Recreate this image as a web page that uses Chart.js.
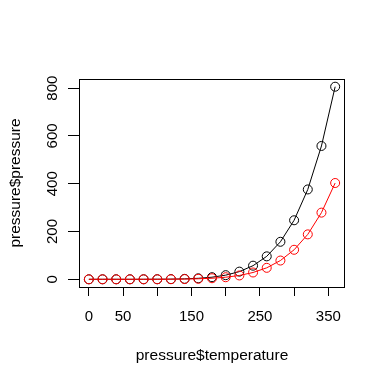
<!DOCTYPE html>
<html>
<head>
<meta charset="utf-8">
<script src="https://cdn.jsdelivr.net/npm/chart.js@4/dist/chart.umd.min.js"></script>
<style>
html,body{margin:0;padding:0;background:#fff;}
#wrap{width:384px;height:384px;}
</style>
</head>
<body>
<div id="wrap"><canvas id="c" width="384" height="384"></canvas></div>
<script>
const temperature = [0,20,40,60,80,100,120,140,160,180,200,220,240,260,280,300,320,340,360];
const pressure = [0.0002,0.0012,0.006,0.03,0.09,0.27,0.75,1.85,4.2,8.8,17.3,32.1,57,96,157,247,376,558,806];
const pressureHalf = [0.0001,0.0006,0.003,0.015,0.045,0.135,0.375,0.925,2.1,4.4,8.65,16.05,28.5,48,78.5,123.5,188,279,403];
const xTicks = [0,50,100,150,200,250,300,350];
const xTickLabels = ['0','50','','150','','250','','350'];
const yTicks = [0,200,400,600,800];
const xTitle = 'pressure$temperature';
const yTitle = 'pressure$pressure';

const FONT = 'Liberation Sans, Arial, sans-serif';

const framePlugin = {
  id: 'frame',
  afterDraw(chart) {
    const {ctx, chartArea: a} = chart;
    ctx.save();
    ctx.strokeStyle = '#000';
    ctx.lineWidth = 1;
    ctx.strokeRect(a.left + 0.5, a.top + 0.5, a.right - a.left - 1, a.bottom - a.top);
    ctx.fillStyle = '#000';
    ctx.font = '15.5px ' + FONT;
    ctx.textAlign = 'center';
    ctx.textBaseline = 'middle';
    ctx.fillText(xTitle, (a.left + a.right) / 2, 356);
    ctx.translate(16, (a.top + a.bottom) / 2);
    ctx.rotate(-Math.PI / 2);
    ctx.fillText(yTitle, 0, 0);
    ctx.restore();
  }
};

const pts = (ys) => temperature.map((t, i) => ({x: t, y: ys[i]}));

new Chart(document.getElementById('c'), {
  type: 'line',
  data: {
    datasets: [
      {data: pts(pressureHalf), borderColor: '#ff0000', pointBorderColor: '#ff0000'},
      {data: pts(pressure), borderColor: '#000000', pointBorderColor: '#000000'}
    ].map(d => Object.assign({
      borderWidth: 1, tension: 0, fill: false,
      pointRadius: 4.5, pointHoverRadius: 4.5, pointBorderWidth: 1,
      pointBackgroundColor: 'rgba(0,0,0,0)', backgroundColor: 'rgba(0,0,0,0)'
    }, d))
  },
  options: {
    responsive: false,
    animation: false,
    devicePixelRatio: 1,
    layout: {padding: {top: 79, right: 39, left: 0, bottom: 0}},
    plugins: {legend: {display: false}, tooltip: {enabled: false}},
    scales: {
      x: {
        type: 'linear', min: -14.4, max: 374.4,
        afterBuildTicks: s => { s.ticks = xTicks.map(v => ({value: v})); },
        afterFit: s => { s.height = 97; },
        grid: {drawOnChartArea: false, drawTicks: true, tickLength: 9, color: '#000', lineWidth: 1},
        border: {display: false},
        ticks: {
          autoSkip: false, maxRotation: 0, minRotation: 0, padding: 12,
          color: '#000', font: {family: FONT, size: 15},
          callback: (v) => { const i = xTicks.indexOf(v); return i >= 0 ? xTickLabels[i] : ''; }
        }
      },
      y: {
        type: 'linear', min: -32.24, max: 838.24,
        afterBuildTicks: s => { s.ticks = yTicks.map(v => ({value: v})); },
        afterFit: s => { s.width = 79; },
        grid: {drawOnChartArea: false, drawTicks: true, tickLength: 11, color: '#000', lineWidth: 1},
        border: {display: false},
        ticks: {
          autoSkip: false, minRotation: 90, maxRotation: 90, padding: 3, crossAlign: 'center',
          color: '#000', font: {family: FONT, size: 15},
          callback: (v) => String(v)
        }
      }
    }
  },
  plugins: [framePlugin]
});
</script>
</body>
</html>
